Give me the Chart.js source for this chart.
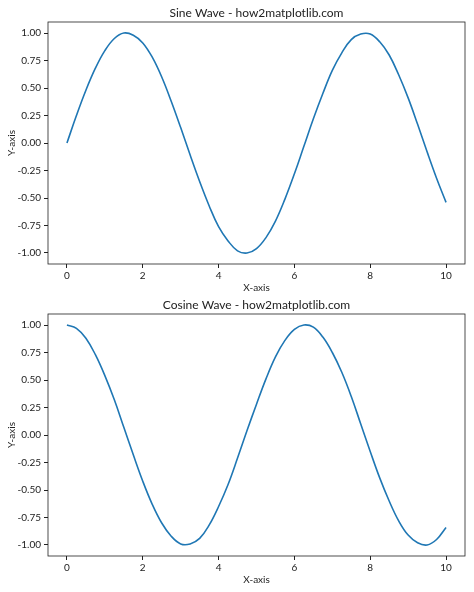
<!DOCTYPE html>
<html lang="en">
<head>
    <meta charset="UTF-8">
    <title>Sine and Cosine Waves</title>
    <script src="https://cdn.jsdelivr.net/npm/chart.js"></script>
    <style>
        body {
            margin: 0;
            background-color: #ffffff;
        }

        .panel {
            position: absolute;
            left: 0;
            width: 474px;
            height: 296px;
        }
    </style>
</head>
<body>
    <div class="panel" style="top: 0px;"><canvas id="sineChart"></canvas></div>
    <div class="panel" style="top: 292px;"><canvas id="cosineChart"></canvas></div>

    <script>
        // values, x every 0.25
        const xValues = [
            0, 0.25, 0.5, 0.75, 1, 1.25, 1.5, 1.75, 2, 2.25, 2.5, 2.75, 3, 3.25, 3.5, 3.75,
            4, 4.25, 4.5, 4.75, 5, 5.25, 5.5, 5.75, 6, 6.25, 6.5, 6.75, 7, 7.25, 7.5, 7.75,
            8, 8.25, 8.5, 8.75, 9, 9.25, 9.5, 9.75, 10
        ];
        const sineValues = [
            0.00, 0.25, 0.48, 0.68, 0.84, 0.95, 1.00, 0.98, 0.91, 0.78, 0.60, 0.38, 0.14, -0.11, -0.35, -0.57,
            -0.76, -0.89, -0.98, -1.00, -0.96, -0.86, -0.71, -0.51, -0.28, -0.03, 0.22, 0.45, 0.66, 0.82, 0.94, 0.99,
            0.99, 0.92, 0.80, 0.62, 0.41, 0.17, -0.08, -0.32, -0.54
        ];
        const cosineValues = [
            1.00, 0.97, 0.88, 0.73, 0.54, 0.32, 0.07, -0.18, -0.42, -0.63, -0.80, -0.92, -0.99, -0.99, -0.94, -0.82,
            -0.65, -0.45, -0.21, 0.04, 0.28, 0.51, 0.71, 0.86, 0.96, 1.00, 0.98, 0.89, 0.75, 0.57, 0.35, 0.10,
            -0.15, -0.39, -0.60, -0.78, -0.91, -0.98, -1.00, -0.95, -0.84
        ];
        const xTicks = [0, 2, 4, 6, 8, 10];
        const yTicks = [-1.00, -0.75, -0.50, -0.25, 0.00, 0.25, 0.50, 0.75, 1.00];

        const FONT = 'Lato, "Open Sans", sans-serif';
        const INK = '#222222';

        // matplotlib-like title and full box around the axes
        const frameAndTitle = {
            id: 'frameAndTitle',
            afterDraw(chart, args, opts) {
                const { ctx, chartArea } = chart;
                ctx.save();
                ctx.strokeStyle = INK;
                ctx.lineWidth = 0.8;
                ctx.strokeRect(chartArea.left, chartArea.top, chartArea.right - chartArea.left, chartArea.bottom - chartArea.top);
                ctx.fillStyle = INK;
                ctx.font = '12px ' + FONT;
                ctx.textAlign = 'center';
                ctx.textBaseline = 'middle';
                ctx.fillText(opts.text, (chartArea.left + chartArea.right) / 2, chartArea.top - 9);
                ctx.restore();
            }
        };

        function makeChart(canvasId, title, values) {
            const points = xValues.map((x, i) => ({ x: x, y: values[i] }));
            return new Chart(document.getElementById(canvasId), {
                type: 'line',
                data: {
                    datasets: [{
                        data: points,
                        borderColor: '#1f77b4',
                        borderWidth: 1.6,
                        pointRadius: 0,
                        tension: 0.4,
                        fill: false
                    }]
                },
                options: {
                    responsive: true,
                    maintainAspectRatio: false,
                    animation: false,
                    layout: { padding: { top: 22, right: 9, left: 0, bottom: 0 } },
                    plugins: {
                        legend: { display: false },
                        tooltip: { enabled: false },
                        frameAndTitle: { text: title }
                    },
                    scales: {
                        x: {
                            type: 'linear',
                            min: -0.5,
                            max: 10.5,
                            afterBuildTicks: axis => { axis.ticks = xTicks.map(v => ({ value: v })); },
                            afterFit: axis => { axis.height = 32; },
                            grid: { drawOnChartArea: false, drawTicks: true, tickLength: 4, color: INK },
                            border: { display: false },
                            ticks: { color: INK, padding: 2, font: { family: FONT, size: 10 } },
                            title: { display: true, text: 'X-axis', color: INK, padding: { top: 0, bottom: 2 }, font: { family: FONT, size: 10 } }
                        },
                        y: {
                            min: -1.1,
                            max: 1.1,
                            afterBuildTicks: axis => { axis.ticks = yTicks.map(v => ({ value: v })); },
                            afterFit: axis => { axis.width = 48; },
                            grid: { drawOnChartArea: false, drawTicks: true, tickLength: 4, color: INK },
                            border: { display: false },
                            ticks: {
                                color: INK,
                                padding: 3,
                                font: { family: FONT, size: 10 },
                                callback: v => v.toFixed(2)
                            },
                            title: { display: true, text: 'Y-axis', color: INK, padding: { top: 6, bottom: 0 }, font: { family: FONT, size: 10 } }
                        }
                    }
                },
                plugins: [frameAndTitle]
            });
        }

        makeChart('sineChart', 'Sine Wave - how2matplotlib.com', sineValues);
        makeChart('cosineChart', 'Cosine Wave - how2matplotlib.com', cosineValues);
    </script>
</body>
</html>
